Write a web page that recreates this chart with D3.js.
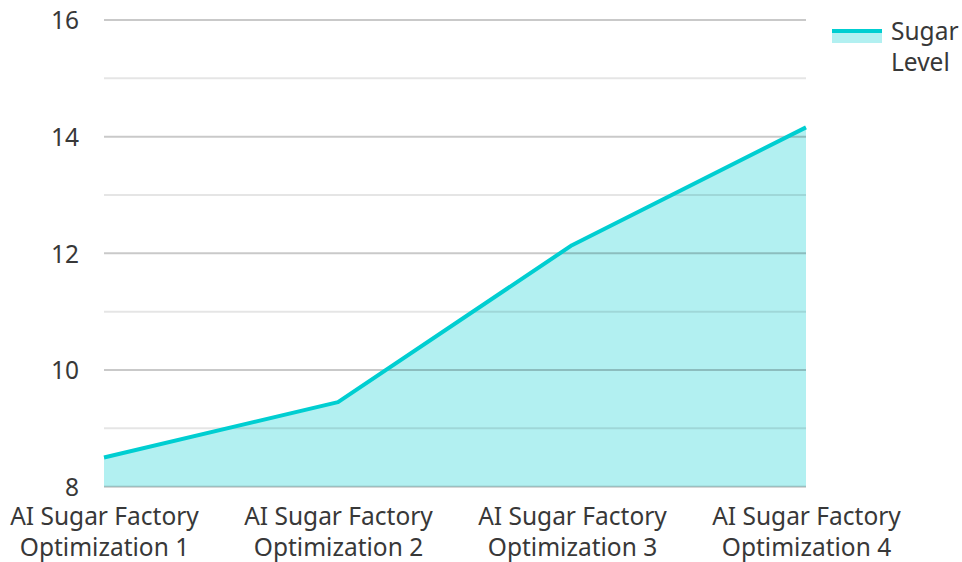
<!DOCTYPE html>
<html>
<head>
<meta charset="utf-8">
<script src="https://cdn.jsdelivr.net/npm/d3@7"></script>
<style>
  html, body { margin: 0; padding: 0; background: #fff; }
  svg { display: block; font-family: "Noto Sans", "Open Sans", sans-serif; }
</style>
</head>
<body>
<svg id="chart" width="962" height="562"></svg>
<script>
const categories = [
  "AI Sugar Factory Optimization 1",
  "AI Sugar Factory Optimization 2",
  "AI Sugar Factory Optimization 3",
  "AI Sugar Factory Optimization 4"
];
const categoryLines = [
  ["AI Sugar Factory", "Optimization 1"],
  ["AI Sugar Factory", "Optimization 2"],
  ["AI Sugar Factory", "Optimization 3"],
  ["AI Sugar Factory", "Optimization 4"]
];
const sugarLevel = [8.5, 9.45, 12.14, 14.16];
const seriesName = ["Sugar", "Level"];
const yMajorTicks = [8, 10, 12, 14, 16];
const yMinorTicks = [9, 11, 13, 15];
const yDomain = [8, 16];

(function () {
const svg = d3.select("#chart");
const mLeft = 104, mRight = 806, mTop = 20, mBottom = 486.7;
const textColor = "#383838";
const lineColor = "#00CED1";
const fillColor = "rgba(0,206,209,0.3)";
const fs = 24.5;

const x = d3.scalePoint().domain(categories).range([mLeft, mRight]).padding(0);
const y = d3.scaleLinear().domain(yDomain).range([mBottom, mTop]);

const data = categories.map((c, i) => ({ c, v: sugarLevel[i] }));

// area
const area = d3.area().x(d => x(d.c)).y0(y(yDomain[0])).y1(d => y(d.v));
svg.append("path").datum(data).attr("d", area).attr("fill", fillColor);

// grid lines (drawn over area)
const grid = svg.append("g");
grid.selectAll("line.minor").data(yMinorTicks).join("line")
  .attr("class", "minor")
  .attr("x1", mLeft).attr("x2", mRight)
  .attr("y1", d => y(d)).attr("y2", d => y(d))
  .attr("stroke", "rgba(0,0,0,0.1)").attr("stroke-width", 2);
grid.selectAll("line.major").data(yMajorTicks).join("line")
  .attr("class", "major")
  .attr("x1", mLeft).attr("x2", mRight)
  .attr("y1", d => y(d)).attr("y2", d => y(d))
  .attr("stroke", "rgba(0,0,0,0.21)").attr("stroke-width", 2);

// line
const line = d3.line().x(d => x(d.c)).y(d => y(d.v));
svg.append("path").datum(data).attr("d", line)
  .attr("fill", "none").attr("stroke", lineColor).attr("stroke-width", 4)
  .attr("stroke-linejoin", "round");

// y axis labels
const yAxis = d3.axisLeft(y).tickValues(yMajorTicks).tickSize(0).tickPadding(0).tickFormat(d3.format("d"));
const yg = svg.append("g").attr("transform", `translate(79,0)`).call(yAxis);
yg.select(".domain").remove();
yg.selectAll("text").attr("font-size", fs).attr("fill", textColor)
  .attr("font-family", "'Noto Sans', sans-serif").attr("dy", "0.36em");

// x axis labels
const xAxis = d3.axisBottom(x).tickSize(0).tickPadding(0).tickFormat(() => "");
const xg = svg.append("g").attr("transform", `translate(0,${mBottom})`).call(xAxis);
xg.select(".domain").remove();
xg.selectAll(".tick").each(function(d, i) {
  const t = d3.select(this).select("text")
    .attr("font-size", fs).attr("fill", textColor)
    .attr("font-family", "'Noto Sans', sans-serif")
    .attr("text-anchor", "middle").attr("y", 0).attr("dy", null);
  t.selectAll("tspan").data(categoryLines[i]).join("tspan")
    .attr("x", 0).attr("y", (s, j) => 38 + j * 31.5).text(s => s);
});

// legend
const lg = svg.append("g");
lg.append("rect").attr("x", 832).attr("y", 31).attr("width", 50).attr("height", 12).attr("fill", fillColor);
lg.append("line").attr("x1", 832).attr("x2", 882).attr("y1", 31).attr("y2", 31)
  .attr("stroke", lineColor).attr("stroke-width", 4);
lg.selectAll("text").data(seriesName).join("text")
  .attr("x", 891).attr("y", (d, i) => 40 + i * 31)
  .attr("font-size", fs).attr("fill", textColor).text(d => d);
})();
</script>
</body>
</html>
